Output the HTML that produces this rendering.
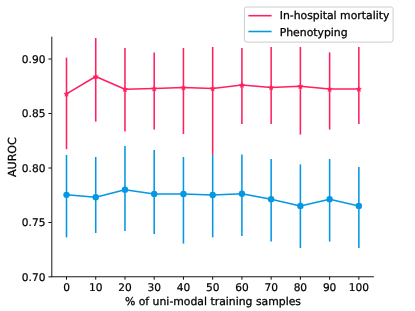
<!DOCTYPE html>
<html lang="en"><head><meta charset="utf-8"><title>AUROC vs % of uni-modal training samples</title>
<style>html,body{margin:0;padding:0;background:#fff;}svg{display:block}text{text-rendering:geometricPrecision;stroke:#000;stroke-width:.22px;stroke-linejoin:round}text.b{stroke-width:.28px}</style></head>
<body>
<svg width="415" height="311" viewBox="0 0 415 311" font-family="'DejaVu Sans', 'Liberation Sans', sans-serif" font-size="10.85" fill="#000">
<rect width="415" height="311" fill="#fff"/>
<g stroke="#fe205f" stroke-width="1.55" fill="none" stroke-linecap="butt">
<line x1="66.50" y1="57.6" x2="66.50" y2="149.2"/>
<line x1="95.73" y1="38.0" x2="95.73" y2="121.6"/>
<line x1="124.97" y1="48.0" x2="124.97" y2="131.6"/>
<line x1="154.20" y1="52.4" x2="154.20" y2="129.6"/>
<line x1="183.44" y1="48.0" x2="183.44" y2="134.0"/>
<line x1="212.68" y1="47.0" x2="212.68" y2="154.8"/>
<line x1="241.91" y1="48.0" x2="241.91" y2="124.0"/>
<line x1="271.14" y1="47.0" x2="271.14" y2="124.0"/>
<line x1="300.38" y1="47.0" x2="300.38" y2="134.6"/>
<line x1="329.62" y1="52.4" x2="329.62" y2="129.6"/>
<line x1="358.85" y1="47.0" x2="358.85" y2="124.0"/>
<polyline stroke-linejoin="round" points="66.50,93.8 95.73,76.5 124.97,89.2 154.20,88.6 183.44,87.6 212.68,88.4 241.91,84.95 271.14,87.4 300.38,86.2 329.62,89.0 358.85,89.0"/>
</g>
<g fill="#fe205f" stroke="#fe205f" stroke-width="0.5" stroke-linejoin="miter">
<polygon points="66.50,91.30 67.23,93.04 69.12,93.20 67.69,94.44 68.12,96.27 66.50,95.30 64.88,96.27 65.31,94.44 63.88,93.20 65.77,93.04"/>
<polygon points="95.73,74.00 96.47,75.74 98.35,75.90 96.92,77.14 97.35,78.97 95.73,78.00 94.12,78.97 94.55,77.14 93.12,75.90 95.00,75.74"/>
<polygon points="124.97,86.70 125.70,88.44 127.59,88.60 126.16,89.84 126.59,91.67 124.97,90.70 123.35,91.67 123.78,89.84 122.35,88.60 124.24,88.44"/>
<polygon points="154.20,86.10 154.94,87.84 156.82,88.00 155.39,89.24 155.82,91.07 154.20,90.10 152.59,91.07 153.02,89.24 151.59,88.00 153.47,87.84"/>
<polygon points="183.44,85.10 184.17,86.84 186.06,87.00 184.63,88.24 185.06,90.07 183.44,89.10 181.82,90.07 182.25,88.24 180.82,87.00 182.71,86.84"/>
<polygon points="212.68,85.90 213.41,87.64 215.29,87.80 213.86,89.04 214.29,90.87 212.68,89.90 211.06,90.87 211.49,89.04 210.06,87.80 211.94,87.64"/>
<polygon points="241.91,82.45 242.64,84.19 244.53,84.35 243.10,85.59 243.53,87.42 241.91,86.45 240.29,87.42 240.72,85.59 239.29,84.35 241.18,84.19"/>
<polygon points="271.14,84.90 271.88,86.64 273.76,86.80 272.33,88.04 272.76,89.87 271.14,88.90 269.53,89.87 269.96,88.04 268.53,86.80 270.41,86.64"/>
<polygon points="300.38,83.70 301.11,85.44 303.00,85.60 301.57,86.84 302.00,88.67 300.38,87.70 298.76,88.67 299.19,86.84 297.76,85.60 299.65,85.44"/>
<polygon points="329.62,86.50 330.35,88.24 332.23,88.40 330.80,89.64 331.23,91.47 329.62,90.50 328.00,91.47 328.43,89.64 327.00,88.40 328.88,88.24"/>
<polygon points="358.85,86.50 359.58,88.24 361.47,88.40 360.04,89.64 360.47,91.47 358.85,90.50 357.23,91.47 357.66,89.64 356.23,88.40 358.12,88.24"/>
</g>
<g stroke="#0497e2" stroke-width="1.55" fill="none" stroke-linecap="butt">
<line x1="66.50" y1="155.0" x2="66.50" y2="237.4"/>
<line x1="95.73" y1="157.0" x2="95.73" y2="233.0"/>
<line x1="124.97" y1="146.0" x2="124.97" y2="231.0"/>
<line x1="154.20" y1="150.0" x2="154.20" y2="234.0"/>
<line x1="183.44" y1="157.0" x2="183.44" y2="243.6"/>
<line x1="212.68" y1="154.6" x2="212.68" y2="237.4"/>
<line x1="241.91" y1="154.6" x2="241.91" y2="236.0"/>
<line x1="271.14" y1="159.0" x2="271.14" y2="241.6"/>
<line x1="300.38" y1="164.4" x2="300.38" y2="248.0"/>
<line x1="329.62" y1="159.0" x2="329.62" y2="241.6"/>
<line x1="358.85" y1="167.0" x2="358.85" y2="248.0"/>
<polyline stroke-linejoin="round" points="66.50,194.85 95.73,197.15 124.97,189.65 154.20,193.9 183.44,193.9 212.68,194.95 241.91,193.75 271.14,199.2 300.38,205.9 329.62,199.2 358.85,205.9"/>
</g>
<g fill="#0497e2">
<circle cx="66.50" cy="194.85" r="3.2"/>
<circle cx="95.73" cy="197.15" r="3.2"/>
<circle cx="124.97" cy="189.65" r="3.2"/>
<circle cx="154.20" cy="193.9" r="3.2"/>
<circle cx="183.44" cy="193.9" r="3.2"/>
<circle cx="212.68" cy="194.95" r="3.2"/>
<circle cx="241.91" cy="193.75" r="3.2"/>
<circle cx="271.14" cy="199.2" r="3.2"/>
<circle cx="300.38" cy="205.9" r="3.2"/>
<circle cx="329.62" cy="199.2" r="3.2"/>
<circle cx="358.85" cy="205.9" r="3.2"/>
</g>
<g stroke="#0d0d0d" stroke-width="0.96" fill="none" stroke-linecap="butt">
<line x1="51.8" y1="36.7" x2="51.8" y2="277.25"/>
<line x1="51.32" y1="276.77" x2="373.9" y2="276.77"/>
</g>
<g stroke="#0d0d0d" stroke-width="1.0" fill="none">
<line x1="66.50" y1="276.8" x2="66.50" y2="279.7"/>
<line x1="95.73" y1="276.8" x2="95.73" y2="279.7"/>
<line x1="124.97" y1="276.8" x2="124.97" y2="279.7"/>
<line x1="154.20" y1="276.8" x2="154.20" y2="279.7"/>
<line x1="183.44" y1="276.8" x2="183.44" y2="279.7"/>
<line x1="212.68" y1="276.8" x2="212.68" y2="279.7"/>
<line x1="241.91" y1="276.8" x2="241.91" y2="279.7"/>
<line x1="271.14" y1="276.8" x2="271.14" y2="279.7"/>
<line x1="300.38" y1="276.8" x2="300.38" y2="279.7"/>
<line x1="329.62" y1="276.8" x2="329.62" y2="279.7"/>
<line x1="358.85" y1="276.8" x2="358.85" y2="279.7"/>
<line x1="48.45" y1="276.85" x2="51.4" y2="276.85"/>
<line x1="48.45" y1="222.50" x2="51.4" y2="222.50"/>
<line x1="48.45" y1="168.00" x2="51.4" y2="168.00"/>
<line x1="48.45" y1="113.50" x2="51.4" y2="113.50"/>
<line x1="48.45" y1="59.00" x2="51.4" y2="59.00"/>
</g>
<text x="66.50" y="291.45" font-size="10.6" text-anchor="middle">0</text>
<text x="95.73" y="291.45" font-size="10.6" text-anchor="middle">10</text>
<text x="124.97" y="291.45" font-size="10.6" text-anchor="middle">20</text>
<text x="154.20" y="291.45" font-size="10.6" text-anchor="middle">30</text>
<text x="183.44" y="291.45" font-size="10.6" text-anchor="middle">40</text>
<text x="212.68" y="291.45" font-size="10.6" text-anchor="middle">50</text>
<text x="241.91" y="291.45" font-size="10.6" text-anchor="middle">60</text>
<text x="271.14" y="291.45" font-size="10.6" text-anchor="middle">70</text>
<text x="300.38" y="291.45" font-size="10.6" text-anchor="middle">80</text>
<text x="329.62" y="291.45" font-size="10.6" text-anchor="middle">90</text>
<text x="358.85" y="291.45" font-size="10.6" text-anchor="middle">100</text>
<text x="45.4" y="280.80" font-size="10.6" text-anchor="end">0.70</text>
<text x="45.4" y="226.30" font-size="10.6" text-anchor="end">0.75</text>
<text x="45.4" y="171.80" font-size="10.6" text-anchor="end">0.80</text>
<text x="45.4" y="117.30" font-size="10.6" text-anchor="end">0.85</text>
<text x="45.4" y="62.80" font-size="10.6" text-anchor="end">0.90</text>
<text class="b" x="213.0" y="305.4" text-anchor="middle">% of uni-modal training samples</text>
<text transform="translate(15.6,157.1) rotate(-90)" class="b" font-size="11.1" text-anchor="middle">AUROC</text>
<rect x="244.4" y="7.0" width="148.7" height="35.1" rx="2.2" ry="2.2" fill="#fff" fill-opacity="0.8" stroke="#cdcdcd" stroke-width="1"/>
<line x1="248.4" y1="15.7" x2="271.6" y2="15.7" stroke="#fe205f" stroke-width="1.55"/>
<line x1="248.4" y1="31.5" x2="271.6" y2="31.5" stroke="#0497e2" stroke-width="1.55"/>
<text class="b" x="279.7" y="19.1">In-hospital mortality</text>
<text class="b" x="279.7" y="35.8">Phenotyping</text>
</svg>
</body></html>
